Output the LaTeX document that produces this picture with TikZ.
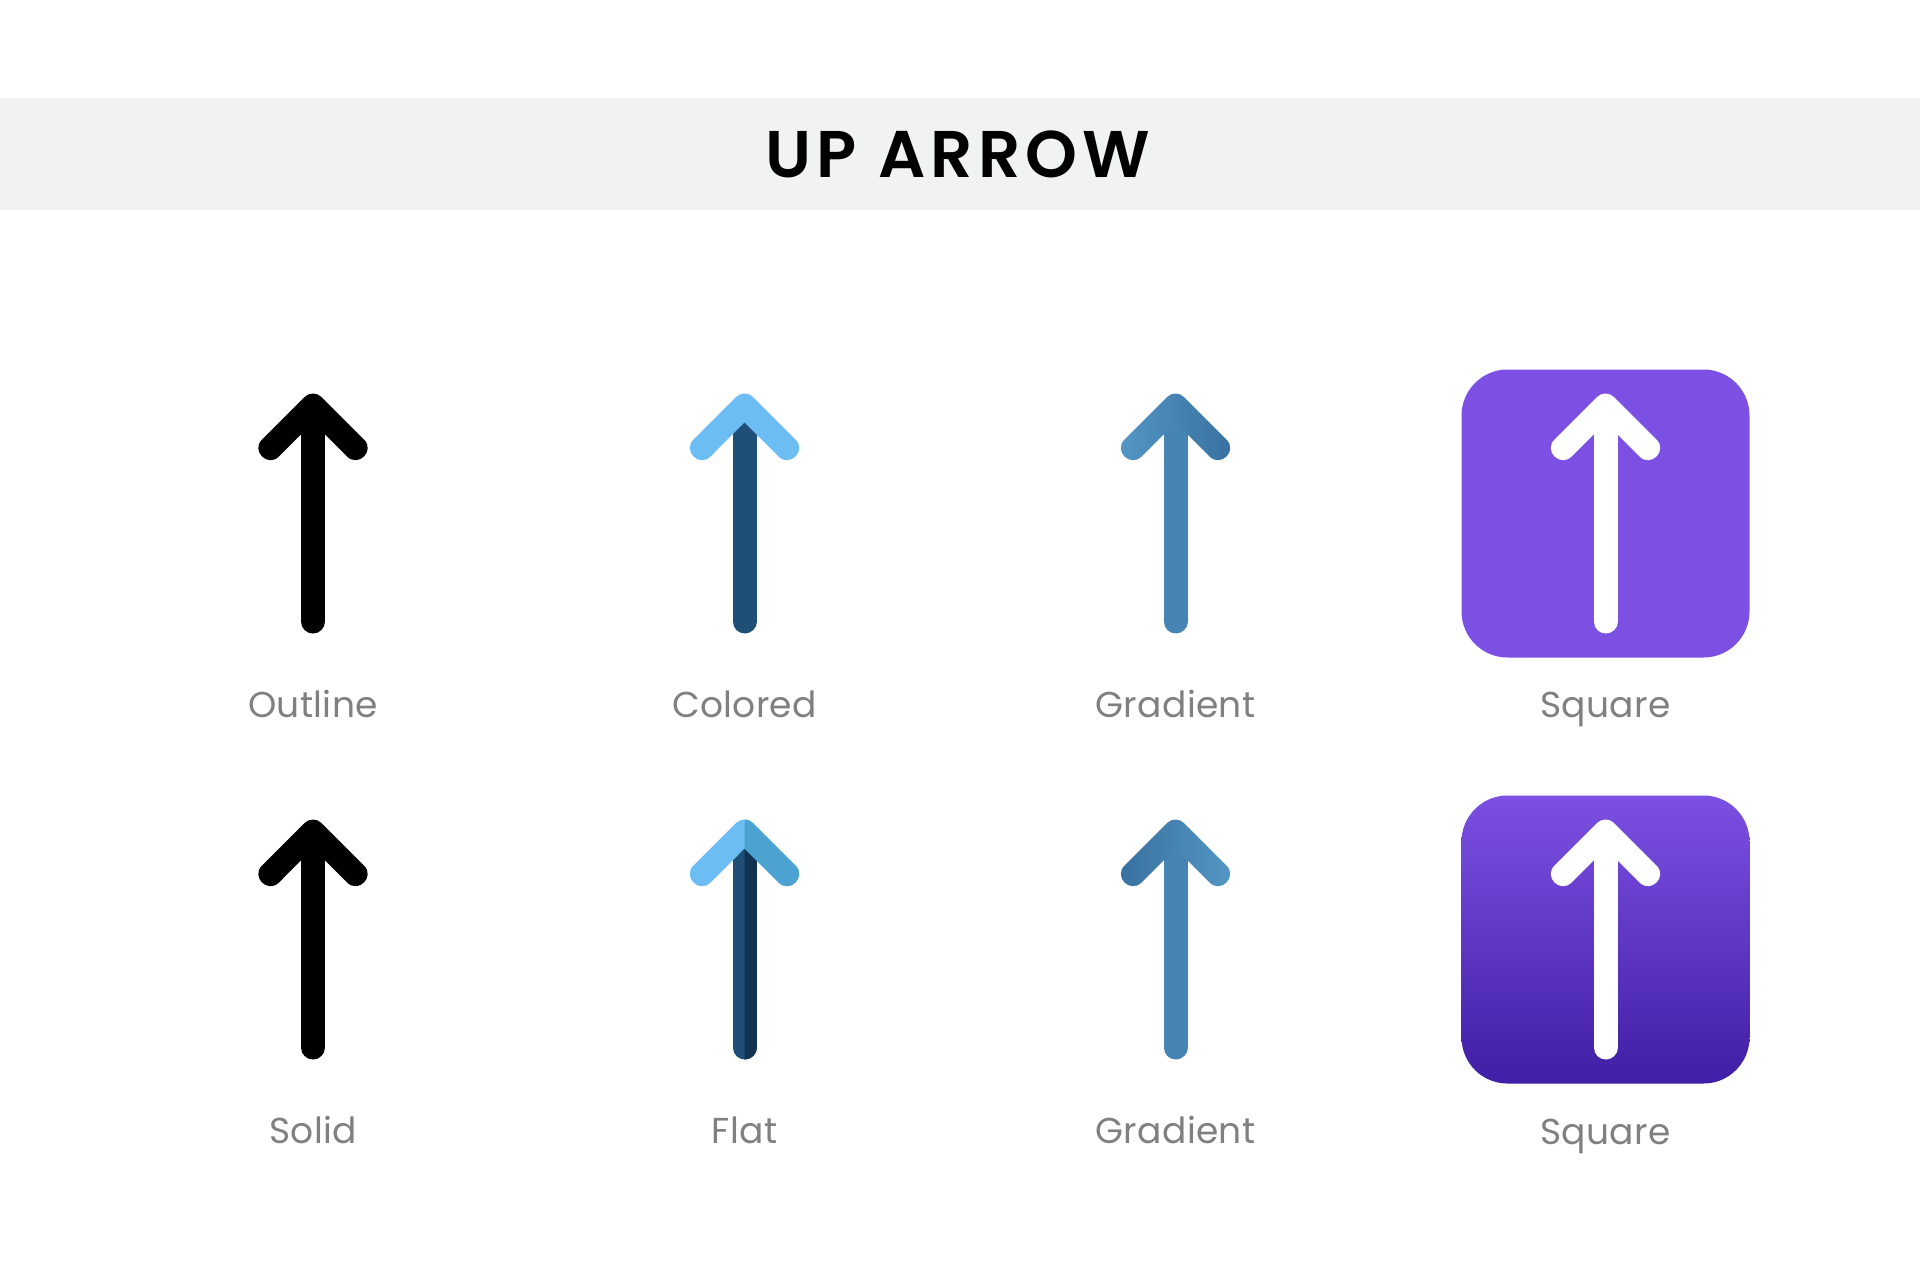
\documentclass[tikz,border=0pt]{standalone}
\usepackage{fontspec}
\setmainfont{Poppins}
\newfontfamily\titlefont[LetterSpace=8]{Poppins SemiBold}
\newfontfamily\labelfont[LetterSpace=0.9]{Poppins}
\definecolor{bandgray}{HTML}{F1F3F2}
\definecolor{labelgray}{HTML}{808080}
\definecolor{skyblue}{HTML}{6BBDF4}
\definecolor{midblue}{HTML}{4CA3D1}
\definecolor{navyblue}{HTML}{1F4E76}
\definecolor{deepblue}{HTML}{0F3350}
\definecolor{steelshaft}{HTML}{4684B3}
\definecolor{steellight}{HTML}{5598C6}
\definecolor{steeldark}{HTML}{376F9D}
\definecolor{violettop}{HTML}{7C50E2}
\definecolor{violetlow}{HTML}{401EA5}
\newcommand{\headpath}{(-50.99,46.01) -- (-8.49,3.51) .. controls (-3.8,-1.18) and (3.8,-1.18) .. (8.49,3.51) -- (50.99,46.01) .. controls (62.3,57.32) and (45.32,74.3) .. (34.01,62.99) -- (0,28.97) -- (-34.01,62.99) .. controls (-45.32,74.3) and (-62.3,57.32) .. (-50.99,46.01) -- cycle}
\tikzset{
  iconlabel/.style = {anchor = base, text = labelgray, font = \labelfont\fontsize{18}{21}\selectfont, inner sep = 0pt},
  shaft/.style = {line width = 12pt, line cap = round},
}
\begin{document}
\begin{tikzpicture}[x = 0.5pt, y = -0.5pt]
    \useasboundingbox (0,0) rectangle (1920,1280);
    \fill[bandgray] (0,98) rectangle (1920,210);
    \node[anchor = base, inner sep = 0pt, font = \titlefont\fontsize{33}{38}\selectfont] (title) at (958,177) {UP ARROW};
    % plain arrows, then the two squares
    \foreach \x/\y/\c in {313/393.5/black, 313/819.5/black, 744.5/393.5/navyblue, 1605.5/393.5/white, 1605.5/819.5/white} {
      \begin{scope}[shift = {(\x,\y)}]
        \ifdim\x pt>1000pt
          \ifdim\y pt<500pt
            \fill[violettop, rounded corners = 23pt] (-144,-24) rectangle (144,264);
          \else
            \shade[top color = violettop, bottom color = violetlow, rounded corners = 23pt] (-144,-24) rectangle (144,264);
          \fi
        \fi
        \draw[shaft, \c] (0,22) -- (0,228);
        \ifdim\x pt=744.5pt \fill[skyblue] \headpath; \else \fill[\c] \headpath; \fi
      \end{scope}
    }
    % flat
    \begin{scope}[shift = {(744.5,819.5)}]
      \draw[shaft, navyblue] (0,22) -- (0,228);
      \begin{scope}
        \clip (0,0) rectangle (20,245);
        \draw[shaft, deepblue] (0,22) -- (0,228);
      \end{scope}
      \fill[skyblue] \headpath;
      \begin{scope}
        \clip (0,-5) rectangle (70,80);
        \fill[midblue] \headpath;
      \end{scope}
    \end{scope}
    % gradients
    \foreach \y/\l/\r in {393.5/steellight/steeldark, 819.5/steeldark/steellight} {
      \begin{scope}[shift = {(1175.5,\y)}]
        \draw[shaft, steelshaft] (0,22) -- (0,228);
        \shade[left color = \l, right color = \r] \headpath;
      \end{scope}
    }
    \node[iconlabel] (outline) at (313,717.5) {Outline};
    \node[iconlabel] (colored) at (744.5,717.5) {Colored};
    \node[iconlabel] (gradienta) at (1175.5,717.5) {Gradient};
    \node[iconlabel] (squarea) at (1605.5,717.5) {Square};
    \node[iconlabel] (solid) at (313,1143.5) {Solid};
    \node[iconlabel] (flat) at (744.5,1143.5) {Flat};
    \node[iconlabel] (gradientb) at (1175.5,1143.5) {Gradient};
    \node[iconlabel] (squareb) at (1605.5,1144.5) {Square};
  \end{tikzpicture}
\end{document}
